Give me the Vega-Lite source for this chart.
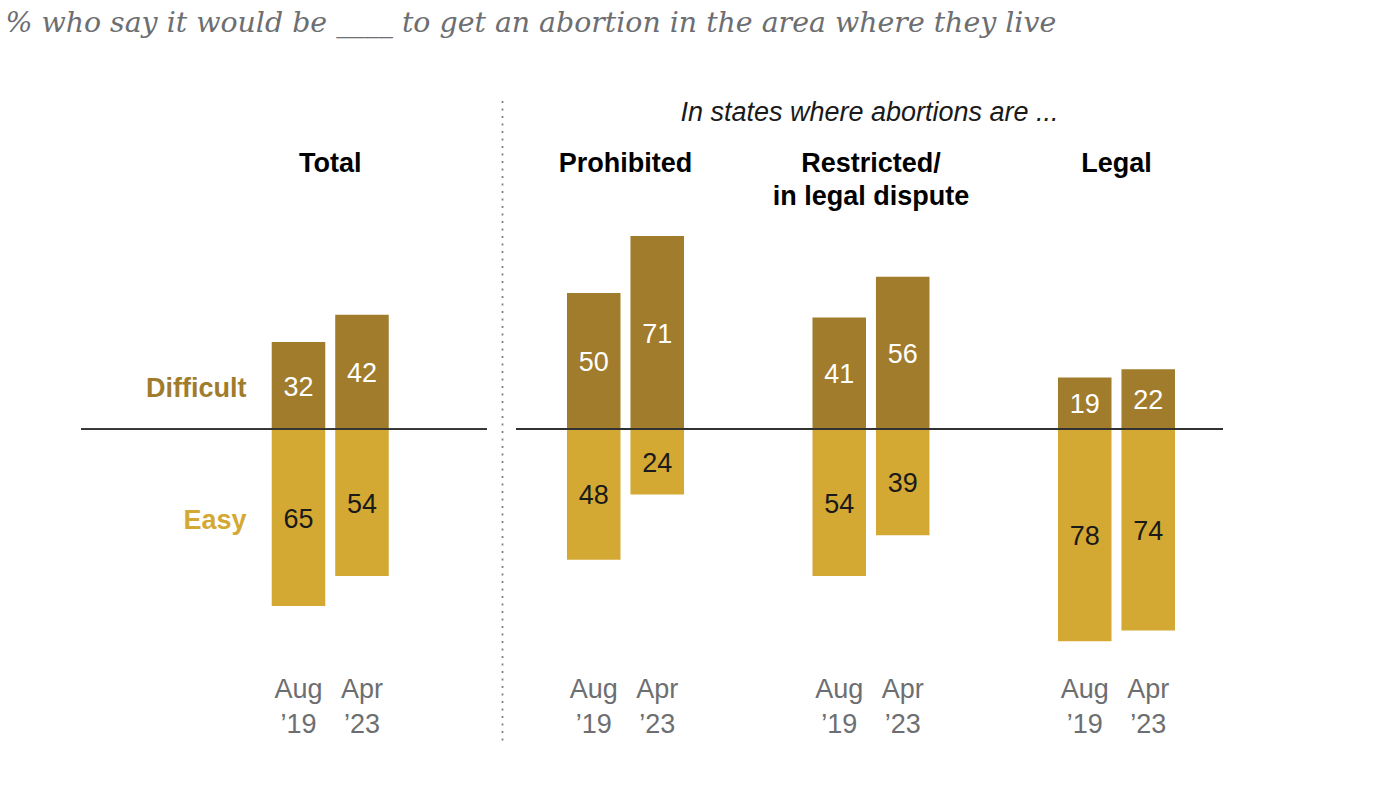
{
  "$schema": "https://vega.github.io/schema/vega-lite/v6.json",
  "background": "white",
  "padding": {"left": 5, "top": 8, "right": 10, "bottom": 10},
  "title": {
    "text": "% who say it would be ____ to get an abortion in the area where they live",
    "anchor": "start",
    "dx": -75,
    "font": "DejaVu Serif",
    "fontStyle": "italic",
    "fontWeight": "normal",
    "fontSize": 28.4,
    "color": "#6d6e71",
    "offset": 59
  },
  "datasets": {
    "survey": [
      {"group": "Total", "date": "Aug ’19", "response": "Difficult", "pct": 32},
      {"group": "Total", "date": "Aug ’19", "response": "Easy", "pct": 65},
      {"group": "Total", "date": "Apr ’23", "response": "Difficult", "pct": 42},
      {"group": "Total", "date": "Apr ’23", "response": "Easy", "pct": 54},
      {"group": "Prohibited", "date": "Aug ’19", "response": "Difficult", "pct": 50},
      {"group": "Prohibited", "date": "Aug ’19", "response": "Easy", "pct": 48},
      {"group": "Prohibited", "date": "Apr ’23", "response": "Difficult", "pct": 71},
      {"group": "Prohibited", "date": "Apr ’23", "response": "Easy", "pct": 24},
      {"group": "Restricted/ in legal dispute", "date": "Aug ’19", "response": "Difficult", "pct": 41},
      {"group": "Restricted/ in legal dispute", "date": "Aug ’19", "response": "Easy", "pct": 54},
      {"group": "Restricted/ in legal dispute", "date": "Apr ’23", "response": "Difficult", "pct": 56},
      {"group": "Restricted/ in legal dispute", "date": "Apr ’23", "response": "Easy", "pct": 39},
      {"group": "Legal", "date": "Aug ’19", "response": "Difficult", "pct": 19},
      {"group": "Legal", "date": "Aug ’19", "response": "Easy", "pct": 78},
      {"group": "Legal", "date": "Apr ’23", "response": "Difficult", "pct": 22},
      {"group": "Legal", "date": "Apr ’23", "response": "Easy", "pct": 74}
    ]
  },
  "spacing": 14,
  "resolve": {"scale": {"x": "independent", "xOffset": "independent"}},
  "hconcat": [
    {
      "width": 406,
      "height": 643,
      "data": {"name": "survey"},
      "transform": [
        {"filter": "datum.group == 'Total'"},
        {"calculate": "datum.response == 'Easy' ? -datum.pct : datum.pct", "as": "signed"}
      ],
      "layer": [
        {
          "mark": {"type": "bar"},
          "encoding": {
            "x": {
              "field": "group", "type": "nominal",
              "scale": {"domain": ["Total"], "paddingInner": 0.19, "paddingOuter": 1, "align": 0.66},
              "axis": {"orient": "top", "title": null, "domain": false, "ticks": false, "labelAngle": 0, "labelFontSize": 27, "labelFontWeight": "bold", "labelColor": "#000000", "labelBaseline": "top", "labelPadding": 0, "offset": -53, "labelFont": "Liberation Sans", "labelLimit": 0}
            },
            "xOffset": {"field": "date", "type": "nominal", "scale": {"domain": ["Aug ’19", "Apr ’23"], "paddingInner": 0.157, "paddingOuter": 0}},
            "y": {"field": "signed", "type": "quantitative", "stack": "zero", "scale": {"domain": [-114.3, 122.1], "nice": false, "zero": false}, "axis": null},
            "color": {"field": "response", "type": "nominal", "scale": {"domain": ["Difficult", "Easy"], "range": ["#a07c2c", "#d3a934"]}, "legend": null}
          }
        },
        {
          "mark": {"type": "rule", "color": "#333333", "strokeWidth": 1.2},
          "encoding": {"y": {"datum": 0}}
        },
        {
          "mark": {"type": "text", "fontSize": 27, "font": "Liberation Sans", "dy": 2},
          "encoding": {
            "x": {"field": "group", "type": "nominal"},
            "xOffset": {"field": "date", "type": "nominal"},
            "y": {"field": "signed", "type": "quantitative", "stack": "zero", "bandPosition": 0.5},
            "detail": {"field": "response"},
            "text": {"field": "pct", "type": "quantitative"},
            "color": {"condition": {"test": "datum.response == 'Difficult'", "value": "#ffffff"}, "value": "#1a1a1a"}
          }
        },
        {
          "transform": [{"filter": "datum.date == 'Aug ’19'"}],
          "mark": {"type": "text", "fontSize": 27, "fontWeight": "bold", "font": "Liberation Sans", "align": "right", "dx": -52, "dy": 3},
          "encoding": {
            "x": {"field": "group", "type": "nominal"},
            "xOffset": {"field": "date", "type": "nominal"},
            "y": {"field": "signed", "type": "quantitative", "stack": "zero", "bandPosition": 0.5},
            "detail": {"field": "response"},
            "text": {"field": "response"},
            "color": {"condition": {"test": "datum.response == 'Difficult'", "value": "#a07c2c"}, "value": "#d3a934"}
          }
        },
        {
          "transform": [{"filter": "datum.response == 'Difficult'"}],
          "mark": {"type": "text", "fontSize": 27, "font": "Liberation Sans", "color": "#6d6e71", "baseline": "top", "lineBreak": " ", "lineHeight": 35},
          "encoding": {
            "x": {"field": "group", "type": "nominal"},
            "xOffset": {"field": "date", "type": "nominal"},
            "y": {"datum": -91},
            "text": {"field": "date"}
          }
        }
      ]
    },
    {
      "width": 707,
      "height": 643,
      "title": {"text": "In states where abortions are ...", "font": "Liberation Sans", "fontStyle": "italic", "fontWeight": "normal", "fontSize": 27, "color": "#1a1a1a", "anchor": "middle", "offset": -30},
      "data": {"name": "survey"},
      "transform": [
        {"filter": "datum.group != 'Total'"},
        {"calculate": "datum.response == 'Easy' ? -datum.pct : datum.pct", "as": "signed"}
      ],
      "layer": [
        {
          "mark": {"type": "bar"},
          "encoding": {
            "x": {
              "field": "group", "type": "nominal",
              "scale": {"domain": ["Prohibited", "Restricted/ in legal dispute", "Legal"], "paddingInner": 0.5234, "paddingOuter": 0.2016, "align": 0.515},
              "axis": {"orient": "top", "title": null, "domain": false, "ticks": false, "labelAngle": 0, "labelFontSize": 27, "labelFontWeight": "bold", "labelColor": "#000000", "labelBaseline": "top", "labelPadding": 0, "offset": -53, "labelFont": "Liberation Sans", "labelLineHeight": 33, "labelLimit": 0, "labelExpr": "datum.label == 'Restricted/ in legal dispute' ? ['Restricted/', 'in legal dispute'] : datum.label"}
            },
            "xOffset": {"field": "date", "type": "nominal", "scale": {"domain": ["Aug ’19", "Apr ’23"], "paddingInner": 0.157, "paddingOuter": 0}},
            "y": {"field": "signed", "type": "quantitative", "stack": "zero", "scale": {"domain": [-114.3, 122.1], "nice": false, "zero": false}, "axis": {"orient": "left", "offset": 14, "title": null, "labels": false, "ticks": false, "grid": false, "domain": true, "domainDash": [2, 5.5], "domainColor": "#7a7a7a", "domainWidth": 1.7}},
            "color": {"field": "response", "type": "nominal", "scale": {"domain": ["Difficult", "Easy"], "range": ["#a07c2c", "#d3a934"]}, "legend": null}
          }
        },
        {
          "mark": {"type": "rule", "color": "#333333", "strokeWidth": 1.2},
          "encoding": {"y": {"datum": 0}}
        },
        {
          "mark": {"type": "text", "fontSize": 27, "font": "Liberation Sans", "dy": 2},
          "encoding": {
            "x": {"field": "group", "type": "nominal"},
            "xOffset": {"field": "date", "type": "nominal"},
            "y": {"field": "signed", "type": "quantitative", "stack": "zero", "bandPosition": 0.5},
            "detail": {"field": "response"},
            "text": {"field": "pct", "type": "quantitative"},
            "color": {"condition": {"test": "datum.response == 'Difficult'", "value": "#ffffff"}, "value": "#1a1a1a"}
          }
        },
        {
          "transform": [{"filter": "datum.response == 'Difficult'"}],
          "mark": {"type": "text", "fontSize": 27, "font": "Liberation Sans", "color": "#6d6e71", "baseline": "top", "lineBreak": " ", "lineHeight": 35},
          "encoding": {
            "x": {"field": "group", "type": "nominal"},
            "xOffset": {"field": "date", "type": "nominal"},
            "y": {"datum": -91},
            "text": {"field": "date"}
          }
        }
      ]
    }
  ],
  "config": {"view": {"stroke": null}, "font": "Liberation Sans"}
}
